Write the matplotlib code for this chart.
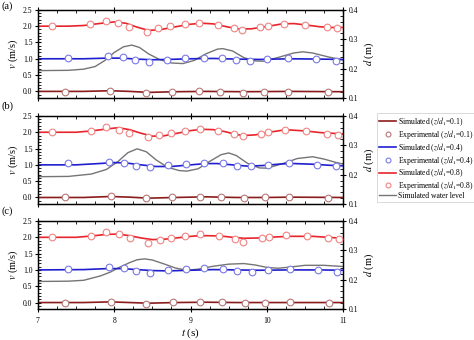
import matplotlib
matplotlib.use("Agg")
import matplotlib.pyplot as plt
from matplotlib.ticker import MultipleLocator, AutoMinorLocator
from matplotlib.lines import Line2D

plt.rcParams['font.family'] = ['Liberation Serif', 'DejaVu Serif']
plt.rcParams['mathtext.fontset'] = 'stix'

panel_labels = ["(a)", "(b)", "(c)"]
legend_labels = [r"Simulated ($z/d_1$=0.1)", r"Experimental ($z/d_1$=0.1)",
                 r"Simulated ($z/d_1$=0.4)", r"Experimental ($z/d_1$=0.4)",
                 r"Simulated ($z/d_1$=0.8)", r"Experimental ($z/d_1$=0.8)",
                 "Simulated water level"]

# ---------------- Panel (a) ----------------
a_r_t = [7.0, 7.4, 7.6, 7.8, 8.0, 8.15, 8.3, 8.45, 8.6, 8.8, 9.0, 9.15, 9.3, 9.5, 9.65, 9.8, 10.0, 10.2, 10.35, 10.5, 10.7, 10.85, 11.0]
a_r_v = [2.0, 2.0, 2.02, 2.08, 2.13, 2.09, 1.97, 1.87, 1.89, 1.98, 2.06, 2.09, 2.07, 1.97, 1.91, 1.92, 1.99, 2.07, 2.08, 2.04, 1.98, 1.96, 1.96]
a_b_t = [7.0, 7.6, 7.9, 8.1, 8.3, 8.5, 8.7, 9.0, 9.3, 9.6, 9.9, 10.3, 10.7, 11.0]
a_b_v = [1.0, 1.0, 1.02, 1.02, 0.99, 0.97, 0.98, 1.0, 1.01, 0.99, 0.98, 1.0, 0.99, 0.98]
a_k_t = [7.0, 7.6, 7.95, 8.2, 8.45, 8.8, 9.2, 9.7, 10.3, 11.0]
a_k_v = [0.0, 0.0, 0.02, 0.0, -0.03, -0.01, 0.0, -0.01, 0.0, -0.01]
a_w_t = [7.0, 7.4, 7.6, 7.75, 7.88, 8.0, 8.12, 8.23, 8.33, 8.45, 8.6, 8.75, 8.9, 9.05, 9.2, 9.35, 9.42, 9.55, 9.7, 9.85, 9.95, 10.15, 10.35, 10.47, 10.6, 10.8, 11.0]
a_w_d = [0.193, 0.194, 0.198, 0.207, 0.228, 0.255, 0.274, 0.28, 0.272, 0.25, 0.23, 0.219, 0.217, 0.228, 0.25, 0.266, 0.268, 0.26, 0.237, 0.226, 0.225, 0.238, 0.253, 0.257, 0.253, 0.24, 0.229]
a_er_t = [7.18, 7.68, 7.89, 8.05, 8.2, 8.43, 8.58, 8.73, 8.93, 9.11, 9.36, 9.57, 9.68, 9.91, 10.02, 10.23, 10.5, 10.79, 10.92]
a_er_v = [2.01, 2.06, 2.17, 2.09, 1.97, 1.83, 1.93, 2.01, 2.06, 2.09, 2.05, 1.94, 1.88, 1.96, 2.01, 2.08, 2.03, 1.96, 1.93]
a_eb_t = [7.4, 7.92, 8.12, 8.27, 8.46, 8.69, 8.93, 9.17, 9.41, 9.59, 9.78, 10.0, 10.28, 10.65, 10.9]
a_eb_v = [1.02, 1.07, 1.04, 0.96, 0.91, 0.97, 1.01, 1.03, 1.02, 0.96, 0.94, 0.99, 1.02, 0.99, 0.94]
a_ek_t = [7.36, 7.95, 8.41, 8.76, 9.11, 9.39, 9.69, 9.96, 10.28, 10.8]
a_ek_v = [-0.02, 0.01, -0.05, -0.02, 0.0, -0.01, -0.05, -0.02, -0.01, -0.03]

# ---------------- Panel (b) ----------------
b_r_t = [7.0, 7.5, 7.7, 7.9, 8.05, 8.2, 8.35, 8.5, 8.65, 8.85, 9.0, 9.15, 9.3, 9.45, 9.6, 9.7, 9.85, 10.0, 10.2, 10.3, 10.5, 10.7, 11.0]
b_r_v = [2.0, 2.0, 2.04, 2.1, 2.14, 2.08, 1.97, 1.88, 1.89, 1.98, 2.05, 2.09, 2.08, 2.02, 1.93, 1.9, 1.92, 1.99, 2.06, 2.07, 2.04, 1.99, 1.95]
b_b_t = [7.0, 7.5, 7.8, 8.0, 8.15, 8.35, 8.55, 8.75, 9.0, 9.2, 9.35, 9.55, 9.75, 9.95, 10.2, 10.35, 10.6, 10.8, 11.0]
b_b_v = [1.0, 1.0, 1.04, 1.07, 1.06, 1.0, 0.95, 0.95, 1.0, 1.04, 1.04, 1.0, 0.96, 0.98, 1.03, 1.04, 1.02, 0.99, 0.97]
b_k_t = [7.0, 7.6, 7.95, 8.2, 8.45, 8.8, 9.2, 9.6, 10.0, 10.3, 11.0]
b_k_v = [0.0, 0.0, 0.03, 0.01, -0.02, 0.0, 0.02, 0.0, 0.0, 0.01, 0.0]
b_w_t = [7.0, 7.4, 7.7, 7.9, 8.05, 8.18, 8.3, 8.42, 8.55, 8.7, 8.85, 8.95, 9.1, 9.25, 9.4, 9.5, 9.6, 9.75, 9.9, 10.0, 10.2, 10.4, 10.6, 10.75, 10.9, 11.0]
b_w_d = [0.193, 0.194, 0.202, 0.218, 0.245, 0.275, 0.288, 0.278, 0.25, 0.225, 0.214, 0.212, 0.22, 0.245, 0.268, 0.274, 0.265, 0.238, 0.223, 0.222, 0.237, 0.255, 0.261, 0.253, 0.242, 0.236]
b_er_t = [7.19, 7.69, 7.89, 8.06, 8.2, 8.44, 8.59, 8.74, 8.93, 9.12, 9.36, 9.57, 9.69, 9.92, 10.02, 10.24, 10.51, 10.79, 10.93]
b_er_v = [2.0, 2.05, 2.17, 2.08, 1.97, 1.84, 1.92, 1.99, 2.04, 2.1, 2.05, 1.94, 1.87, 1.95, 2.0, 2.07, 2.04, 1.96, 1.92]
b_eb_t = [7.4, 7.93, 8.13, 8.28, 8.47, 8.71, 8.94, 9.18, 9.42, 9.61, 9.79, 10.02, 10.29, 10.66, 10.91]
b_eb_v = [1.05, 1.09, 1.07, 0.97, 0.93, 0.99, 1.03, 1.07, 1.05, 0.97, 0.95, 1.01, 1.05, 1.01, 0.96]
b_ek_t = [7.36, 7.96, 8.41, 8.76, 9.12, 9.4, 9.7, 9.97, 10.29, 10.8]
b_ek_v = [0.0, 0.04, -0.03, 0.02, 0.02, 0.0, -0.01, 0.01, 0.02, -0.01]

# ---------------- Panel (c) ----------------
c_r_t = [7.0, 7.5, 7.7, 7.9, 8.05, 8.2, 8.35, 8.5, 8.65, 8.85, 9.05, 9.2, 9.4, 9.55, 9.7, 9.9, 10.1, 10.3, 10.6, 10.8, 11.0]
c_r_v = [2.0, 2.0, 2.04, 2.09, 2.1, 2.05, 1.98, 1.93, 1.94, 1.99, 2.04, 2.05, 2.04, 2.0, 1.97, 1.98, 2.01, 2.03, 2.03, 2.0, 1.97]
c_b_t = [7.0, 7.6, 7.9, 8.1, 8.3, 8.5, 8.7, 9.0, 9.3, 9.6, 9.9, 10.3, 10.7, 11.0]
c_b_v = [1.0, 1.01, 1.04, 1.04, 1.01, 0.98, 0.97, 0.99, 1.01, 1.0, 0.99, 1.0, 1.0, 0.99]
c_k_t = [7.0, 7.6, 7.95, 8.2, 8.45, 8.8, 9.2, 9.6, 10.2, 11.0]
c_k_v = [0.0, 0.0, 0.02, 0.0, -0.02, 0.0, 0.01, 0.0, 0.0, 0.0]
c_w_t = [7.0, 7.4, 7.6, 7.82, 7.95, 8.05, 8.2, 8.3, 8.4, 8.5, 8.65, 8.8, 8.95, 9.1, 9.3, 9.5, 9.7, 9.85, 10.0, 10.15, 10.3, 10.5, 10.75, 11.0]
c_w_d = [0.194, 0.195, 0.198, 0.213, 0.226, 0.24, 0.258, 0.268, 0.271, 0.267, 0.254, 0.24, 0.232, 0.236, 0.246, 0.253, 0.255, 0.25, 0.242, 0.239, 0.243, 0.249, 0.249, 0.245]
c_er_t = [7.19, 7.69, 7.89, 8.06, 8.21, 8.44, 8.6, 8.74, 8.93, 9.12, 9.37, 9.58, 9.69, 9.93, 10.03, 10.25, 10.52, 10.8, 10.94]
c_er_v = [2.0, 2.05, 2.17, 2.09, 1.97, 1.84, 1.92, 1.99, 2.05, 2.09, 2.05, 1.94, 1.87, 1.97, 2.02, 2.07, 2.04, 1.97, 1.94]
c_eb_t = [7.4, 7.93, 8.13, 8.28, 8.47, 8.71, 8.94, 9.18, 9.43, 9.61, 9.8, 10.02, 10.3, 10.67, 10.92]
c_eb_v = [1.04, 1.09, 1.05, 0.97, 0.91, 0.99, 1.03, 1.06, 1.02, 0.97, 0.95, 0.99, 1.03, 1.0, 0.95]
c_ek_t = [7.36, 7.96, 8.41, 8.77, 9.12, 9.41, 9.71, 9.97, 10.3, 10.81]
c_ek_v = [0.0, 0.03, -0.03, 0.01, 0.01, 0.01, -0.02, 0.0, 0.01, -0.02]

panels = [
    (a_r_t, a_r_v, a_b_t, a_b_v, a_k_t, a_k_v, a_w_t, a_w_d, a_er_t, a_er_v, a_eb_t, a_eb_v, a_ek_t, a_ek_v),
    (b_r_t, b_r_v, b_b_t, b_b_v, b_k_t, b_k_v, b_w_t, b_w_d, b_er_t, b_er_v, b_eb_t, b_eb_v, b_ek_t, b_ek_v),
    (c_r_t, c_r_v, c_b_t, c_b_v, c_k_t, c_k_v, c_w_t, c_w_d, c_er_t, c_er_v, c_eb_t, c_eb_v, c_ek_t, c_ek_v),
]

C_K = "#8b1c1c"
C_B = "#1f1fd0"
C_R = "#e8242c"
C_W = "#757575"
E_K = "#b87878"
E_B = "#7a7ae6"
E_R = "#f08484"

W, H = 474.0, 340.0
fig = plt.figure(figsize=(4.74, 3.40), dpi=100)
left, width, height = 0.080, 0.644, 0.259
bottoms = [0.712, 0.400, 0.091]
label_centers_px = [6, 106, 211]

for i, (p, bot) in enumerate(zip(panels, bottoms)):
    (rt, rv, bt, bv, kt, kv, wt, wd, ert, erv, ebt, ebv, ekt, ekv) = p
    ax = fig.add_axes([left, bot, width, height])
    ax2 = ax.twinx()
    ax.set_zorder(ax2.get_zorder() + 1)
    ax.patch.set_visible(False)

    ax2.plot(wt, wd, color=C_W, lw=1.0)
    ax.plot(kt, kv, color=C_K, lw=1.2, zorder=2)
    ax.plot(bt, bv, color=C_B, lw=1.2, zorder=2)
    ax.plot(rt, rv, color=C_R, lw=1.2, zorder=2)
    mk = dict(ls='none', marker='o', ms=4.8, mfc='white', mew=0.8, zorder=3)
    ax.plot(ekt, ekv, mec=E_K, **mk)
    ax.plot(ebt, ebv, mec=E_B, **mk)
    ax.plot(ert, erv, mec=E_R, **mk)

    ax.set_xlim(7, 11)
    ax.set_ylim(-0.2, 2.5)
    ax2.set_ylim(0.1, 0.4)
    ax.xaxis.set_major_locator(MultipleLocator(1))
    ax.xaxis.set_minor_locator(AutoMinorLocator(4))
    ax.yaxis.set_major_locator(MultipleLocator(0.5))
    ax.yaxis.set_minor_locator(AutoMinorLocator(5))
    ax2.yaxis.set_major_locator(MultipleLocator(0.1))
    ax2.yaxis.set_minor_locator(AutoMinorLocator(5))

    ax.tick_params(axis='both', which='major', direction='inout', length=4, width=0.8, labelsize=5.5, pad=2, top=True)
    ax.tick_params(axis='both', which='minor', direction='in', length=2, width=0.6, top=True)
    ax.tick_params(axis='x', which='both', top=True)
    ax2.tick_params(axis='y', which='major', direction='inout', length=4, width=0.8, labelsize=5.5, pad=2)
    ax2.tick_params(axis='y', which='minor', direction='in', length=2, width=0.6)
    ax.set_yticks([0.0, 0.5, 1.0, 1.5, 2.0, 2.5])
    ax.set_yticklabels(["0.0", "0.5", "1.0", "1.5", "2.0", "2.5"])
    for a in (ax, ax2):
        for s in a.spines.values():
            s.set_linewidth(0.9)

    ax.set_ylabel(r"$v$ (m/s)", fontsize=7.5, labelpad=2)
    ax2.set_ylabel(r"$d$ (m)", fontsize=7.5, labelpad=3)
    if i < 2:
        ax.tick_params(axis='x', labelbottom=False)
    else:
        ax.set_xlabel(r"$t$ (s)", fontsize=8, labelpad=1)
        ax.tick_params(axis='x', which='major', pad=4)
    fig.text(2 / W, 1 - label_centers_px[i] / H, panel_labels[i], fontsize=7.5, va='center', ha='left')

handles = [
    Line2D([], [], color=C_K, lw=1.2),
    Line2D([], [], ls='none', marker='o', ms=3.5, mfc='white', mec=E_K, mew=0.8),
    Line2D([], [], color=C_B, lw=1.2),
    Line2D([], [], ls='none', marker='o', ms=3.5, mfc='white', mec=E_B, mew=0.8),
    Line2D([], [], color=C_R, lw=1.2),
    Line2D([], [], ls='none', marker='o', ms=3.5, mfc='white', mec=E_R, mew=0.8),
    Line2D([], [], color=C_W, lw=1.0),
]
leg = fig.legend(handles, legend_labels, loc='upper left', bbox_to_anchor=(377 / W, 1 - 113 / H),
                 fontsize=5.5, frameon=True, fancybox=False, edgecolor='#c8c8c8',
                 handlelength=2.2, handletextpad=0.25, labelspacing=0.0, borderpad=0.3,
                 borderaxespad=0)
leg.get_frame().set_linewidth(0.6)

fig.savefig("out.png", dpi=100)
